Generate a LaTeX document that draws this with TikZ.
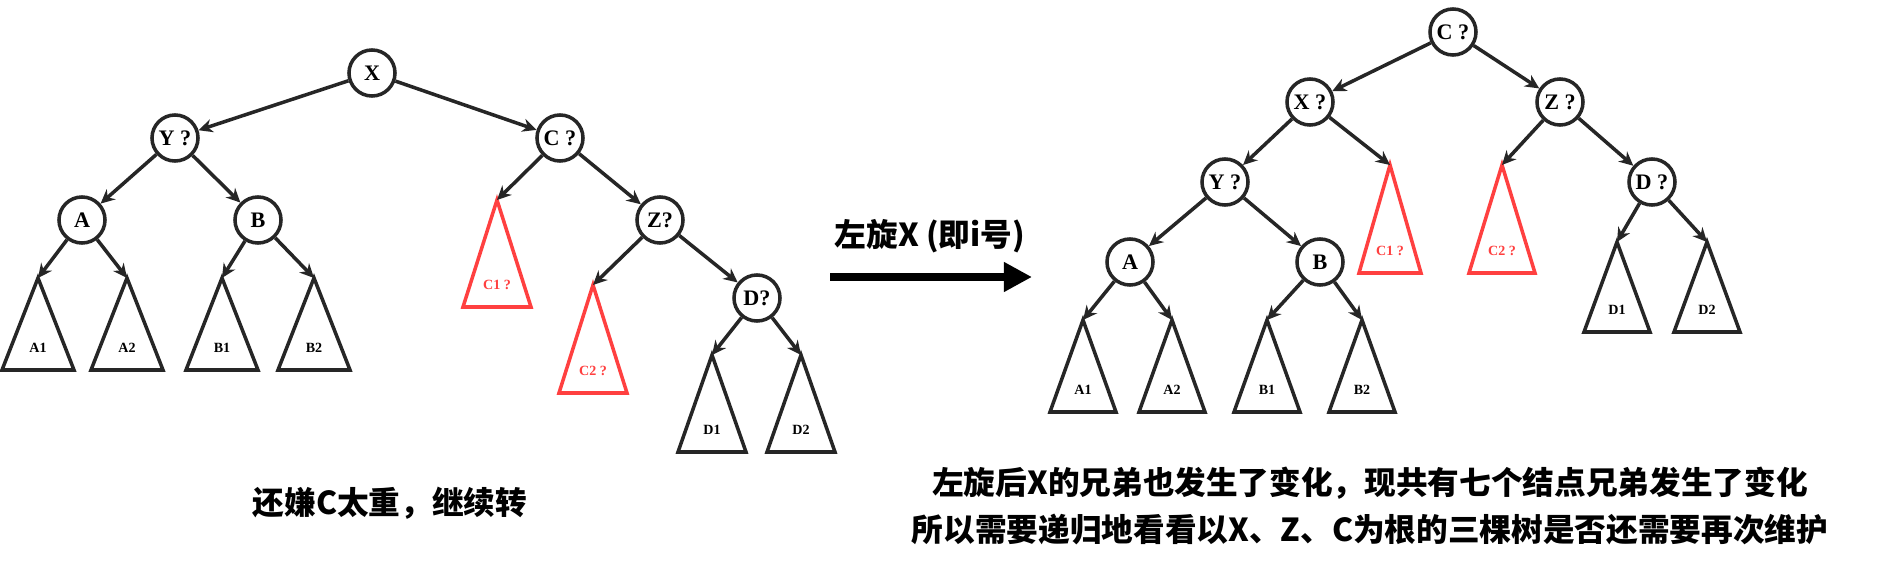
\documentclass[tikz,border=0pt]{standalone}
\usepackage{fontspec}
\setmainfont{Liberation Serif}
\newfontfamily\cjk{Noto Sans CJK SC}
\usetikzlibrary{arrows.meta}
\begin{document}
\begin{tikzpicture}[x=0.01cm,y=-0.01cm,
  nd/.style={circle,draw=black!85,line width=1pt,minimum size=0.46cm,inner sep=0pt,font=\bfseries\fontsize{6.3}{7}\selectfont},
  ed/.style={-{Stealth[length=4pt,width=3.8pt]},line width=1pt,draw=black!85},
  tri/.style={line width=1pt,draw=black!85},
  rtri/.style={line width=1pt,draw=red!75},
  tl/.style={font=\bfseries\fontsize{4}{4}\selectfont},
  captxt/.style={font=\cjk\bfseries\fontsize{9}{10}\selectfont}]
\useasboundingbox (0,0) rectangle (1890,570);
\newcommand\tri[8]{% name, x, y, halfwidth, base y, label, style, textcolor
  \coordinate (#1) at (#2,#3);
  \draw[#7] (#2,#3) -- (#2-#4,#5) -- (#2+#4,#5) -- cycle;
  \node[tl,text=#8] (#1l) at (#2,#5-22) {#6};}
% left tree
\node[nd] (X) at (372,73) {X};
\node[nd] (Y) at (175,138) {Y ?};
\node[nd] (C) at (560,138) {C ?};
\node[nd] (A) at (82,220) {A};
\node[nd] (B) at (258,220) {B};
\node[nd] (Z) at (660,220) {Z?};
\node[nd] (D) at (757,298) {D?};
\tri{a1}{38}{278}{36}{370}{A1}{tri}{black}
\tri{a2}{127}{278}{36}{370}{A2}{tri}{black}
\tri{b1}{222}{278}{36}{370}{B1}{tri}{black}
\tri{b2}{314}{278}{36}{370}{B2}{tri}{black}
\tri{c1}{497}{200}{34}{307}{C1 ?}{rtri}{red!75}
\tri{c2}{593}{285}{34}{393}{C2 ?}{rtri}{red!75}
\tri{d1}{712}{355}{34}{452}{D1}{tri}{black}
\tri{d2}{801}{355}{34}{452}{D2}{tri}{black}
\draw[ed] (X)--(Y); \draw[ed] (X)--(C);
\draw[ed] (Y)--(A); \draw[ed] (Y)--(B);
\draw[ed] (A)--(a1); \draw[ed] (A)--(a2);
\draw[ed] (B)--(b1); \draw[ed] (B)--(b2);
\draw[ed] (C)--(c1); \draw[ed] (C)--(Z);
\draw[ed] (Z)--(c2); \draw[ed] (Z)--(D);
\draw[ed] (D)--(d1); \draw[ed] (D)--(d2);
\node[captxt] (capl) at (390,503) {还嫌C太重，继续转};
% big arrow
\coordinate (ms) at (830,277);
\coordinate (me) at (1032,277);
\draw[line width=2pt,-{Triangle[length=8pt,width=8pt]}] (ms) -- (me);
\node[captxt] (ml) at (930,236) {左旋X (即i号)};
% right tree
\node[nd] (C2) at (1453,32) {C ?};
\node[nd] (X2) at (1310,102) {X ?};
\node[nd] (Z2) at (1560,102) {Z ?};
\node[nd] (Y2) at (1225,182) {Y ?};
\node[nd] (D2) at (1652,182) {D ?};
\node[nd] (A2) at (1130,262) {A};
\node[nd] (B2) at (1320,262) {B};
\tri{rc1}{1390}{165}{31}{273}{C1 ?}{rtri}{red!75}
\tri{rc2}{1502}{165}{33}{273}{C2 ?}{rtri}{red!75}
\tri{rd1}{1617}{242}{33}{332}{D1}{tri}{black}
\tri{rd2}{1707}{242}{33}{332}{D2}{tri}{black}
\tri{ra1}{1083}{320}{33}{412}{A1}{tri}{black}
\tri{ra2}{1172}{320}{33}{412}{A2}{tri}{black}
\tri{rb1}{1267}{320}{33}{412}{B1}{tri}{black}
\tri{rb2}{1362}{320}{33}{412}{B2}{tri}{black}
\draw[ed] (C2)--(X2); \draw[ed] (C2)--(Z2);
\draw[ed] (X2)--(Y2); \draw[ed] (X2)--(rc1);
\draw[ed] (Z2)--(rc2); \draw[ed] (Z2)--(D2);
\draw[ed] (Y2)--(A2); \draw[ed] (Y2)--(B2);
\draw[ed] (D2)--(rd1); \draw[ed] (D2)--(rd2);
\draw[ed] (A2)--(ra1); \draw[ed] (A2)--(ra2);
\draw[ed] (B2)--(rb1); \draw[ed] (B2)--(rb2);
\node[captxt] (capr1) at (1370,483) {左旋后X的兄弟也发生了变化，现共有七个结点兄弟发生了变化};
\node[captxt] (capr2) at (1370,530) {所以需要递归地看看以X、Z、C为根的三棵树是否还需要再次维护};
\end{tikzpicture}
\end{document}
